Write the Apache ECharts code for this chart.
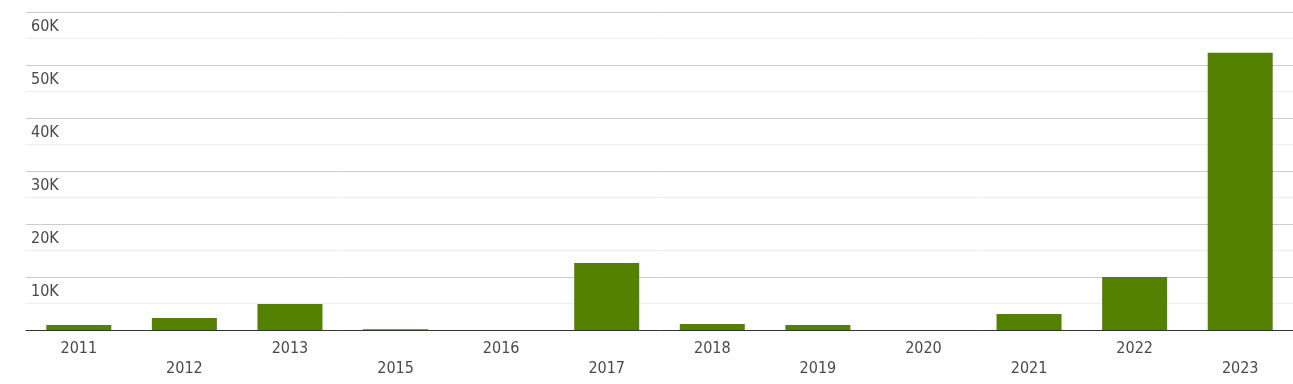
<!DOCTYPE html>
<html>
<head>
<meta charset="utf-8">
<script src="https://cdn.jsdelivr.net/npm/echarts@6/dist/echarts.min.js"></script>
<style>
html,body{margin:0;padding:0;background:#fff;}
#chart{width:1293px;height:384px;}
</style>
</head>
<body>
<div id="chart"></div>
<script>
var categories = ['2011','2012','2013','2015','2016','2017','2018','2019','2020','2021','2022','2023'];
var values = [950, 2250, 4900, 150, 0, 12650, 1150, 950, 0, 3000, 10000, 52300];
var yTicks = [0, 10000, 20000, 30000, 40000, 50000, 60000];

var FONT = '"DejaVu Sans Condensed", "DejaVu Sans", sans-serif';
var chart = echarts.init(document.getElementById('chart'));
chart.setOption({
  animation: false,
  grid: {left: 26, right: 0, top: 12, bottom: 54, containLabel: false},
  xAxis: {
    type: 'category',
    data: categories,
    z: 5,
    axisLine: {show: true, lineStyle: {color: '#333', width: 1}},
    axisTick: {show: false},
    axisLabel: {
      interval: 0,
      margin: 9,
      fontSize: 16,
      fontFamily: FONT,
      color: '#4a4a4a',
      lineHeight: 20,
      formatter: function (v, i) { return i % 2 ? '\n' + v : v; }
    }
  },
  yAxis: {
    type: 'value',
    min: yTicks[0],
    max: yTicks[yTicks.length - 1],
    interval: 10000,
    axisLine: {show: false},
    axisTick: {show: false},
    splitLine: {show: true, lineStyle: {color: '#ccc', width: 1}},
    minorTick: {show: false, splitNumber: 2},
    minorSplitLine: {show: true, lineStyle: {color: '#eee', width: 1}},
    axisLabel: {
      inside: true,
      margin: 5,
      showMinLabel: false,
      verticalAlign: 'top',
      padding: [7, 0, 0, 0],
      fontSize: 16,
      fontFamily: FONT,
      color: '#4a4a4a',
      formatter: function (v) { return v === 0 ? '' : (v / 1000) + 'K'; }
    },
    z: 1
  },
  series: [{
    type: 'bar',
    data: values,
    barWidth: 65,
    itemStyle: {color: '#548200'}
  }]
});
</script>
</body>
</html>
